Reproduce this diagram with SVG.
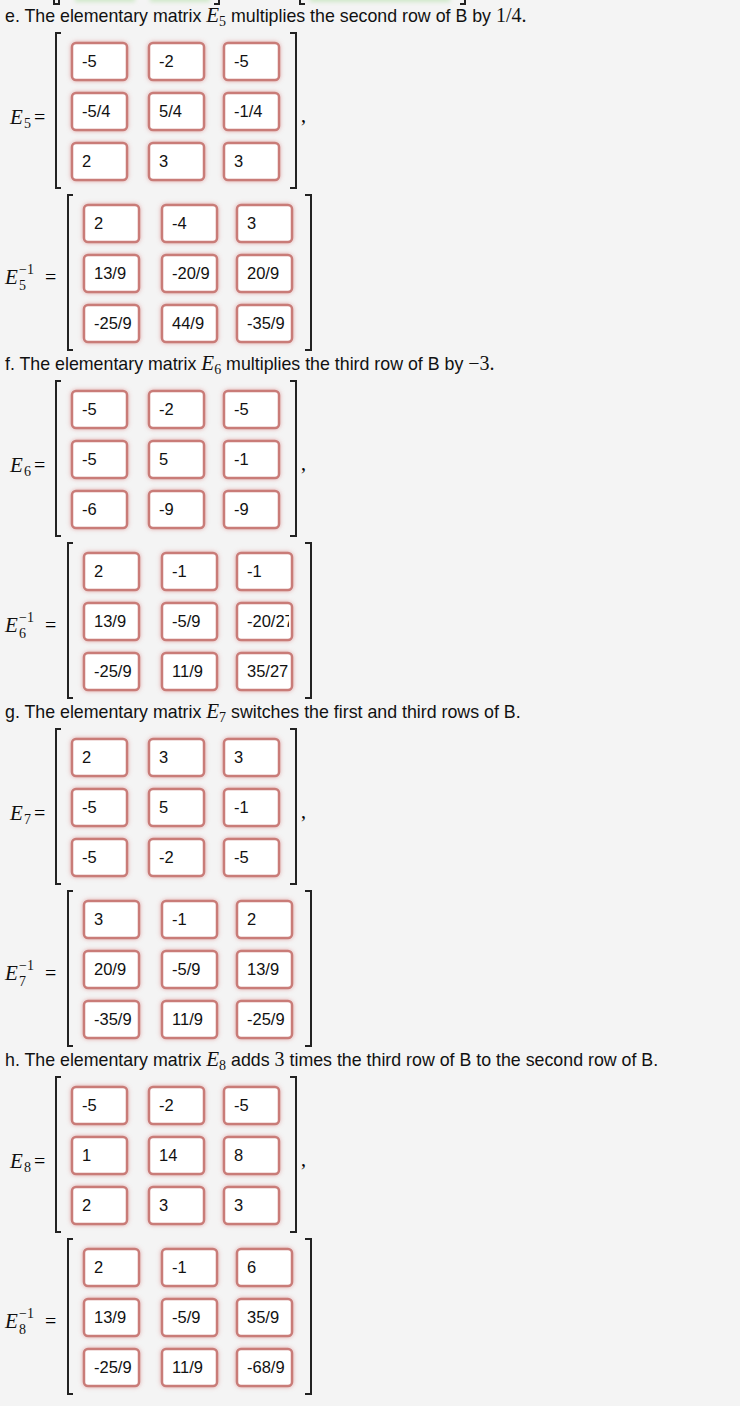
<svg xmlns="http://www.w3.org/2000/svg" width="740" height="1406" viewBox="0 0 740 1406">
<defs>
<filter id="glow" x="-20%" y="-20%" width="140%" height="140%"><feDropShadow dx="0" dy="0" stdDeviation="2" flood-color="#d07070" flood-opacity="0.6"/></filter>
<filter id="gglow" x="-20%" y="-50%" width="140%" height="200%"><feGaussianBlur stdDeviation="2"/></filter>
<g id="b"><rect width="55" height="37" rx="4" class="bx" filter="url(#glow)"/></g>
<clipPath id="c1"><rect x="84" y="190" width="52" height="170"/></clipPath>
<clipPath id="c2"><rect x="162" y="190" width="52" height="170"/></clipPath>
<clipPath id="c3"><rect x="237" y="190" width="52" height="170"/></clipPath>
</defs>
<style>
.bx{fill:#fff;stroke:#c97b78;stroke-width:2.5}
.v{font-family:"Liberation Sans",Arial,sans-serif;font-size:16.5px;fill:#111}
.t{font-family:"Liberation Sans",Arial,sans-serif;font-size:17.8px;fill:#111}
.m{font-family:"Liberation Serif","Times New Roman",serif;font-size:20px}
.mi{font-family:"Liberation Serif","Times New Roman",serif;font-size:21px;font-style:italic;fill:#111}
.ms{font-family:"Liberation Serif","Times New Roman",serif;font-size:14px;fill:#111}
.br{fill:none;stroke:#222;stroke-width:2}
</style>
<rect width="740" height="1406" fill="#f4f4f4"/>
<g id="top-fragment">
<rect x="75" y="-10" width="60" height="12" fill="#cfe8c8" filter="url(#gglow)"/>
<rect x="150" y="-10" width="60" height="12" fill="#cfe8c8" filter="url(#gglow)"/>
<rect x="310" y="-10" width="140" height="12" fill="#cfe8c8" filter="url(#gglow)"/>
<path class="br" d="M59,-2 V4 H54 V-2 M214,4 H219 V-2 M305,4 H300 V-2 M460,4 H465 V-2"/>
</g>
<g id="connectors"/>

<!-- Section e -->
<g id="sec-e">
<text class="t" x="5" y="22">e. The elementary matrix <tspan class="mi">E</tspan><tspan class="ms" dy="4">5</tspan><tspan dy="-4"> multiplies the second row of B by </tspan><tspan class="m">1/4.</tspan></text>
<g id="E5">
<text class="mi" x="10" y="124">E</text><text class="ms" x="24" y="128">5</text><text class="m" x="34" y="124">=</text>
<path class="br" d="M61,33 H56 V188 H61 M290,33 H296 V188 H290"/>
<text class="m" x="301" y="122">,</text>
<use href="#b" x="72" y="43"/><use href="#b" x="149" y="43"/><use href="#b" x="224" y="43"/>
<use href="#b" x="72" y="93"/><use href="#b" x="149" y="93"/><use href="#b" x="224" y="93"/>
<use href="#b" x="72" y="143"/><use href="#b" x="149" y="143"/><use href="#b" x="224" y="143"/>
<text class="v" x="82" y="67">-5</text><text class="v" x="159" y="67">-2</text><text class="v" x="234" y="67">-5</text>
<text class="v" x="82" y="117">-5/4</text><text class="v" x="159" y="117">5/4</text><text class="v" x="234" y="117">-1/4</text>
<text class="v" x="82" y="167">2</text><text class="v" x="159" y="167">3</text><text class="v" x="234" y="167">3</text>
</g>
<g id="E5inv">
<text class="mi" x="5" y="284">E</text><text class="ms" x="19" y="290">5</text><text class="ms" x="19" y="274">−1</text><text class="m" x="45" y="284">=</text>
<path class="br" d="M73,195 H68 V350 H73 M305,195 H311 V350 H305"/>
<use href="#b" x="84" y="205"/><use href="#b" x="162" y="205"/><use href="#b" x="237" y="205"/>
<use href="#b" x="84" y="255"/><use href="#b" x="162" y="255"/><use href="#b" x="237" y="255"/>
<use href="#b" x="84" y="305"/><use href="#b" x="162" y="305"/><use href="#b" x="237" y="305"/>
<text class="v" x="94" y="229">2</text><text class="v" x="172" y="229">-4</text><text class="v" x="247" y="229">3</text>
<text class="v" x="94" y="279">13/9</text><text class="v" x="172" y="279" clip-path="url(#c2)">-20/9</text><text class="v" x="247" y="279">20/9</text>
<text class="v" x="94" y="329" clip-path="url(#c1)">-25/9</text><text class="v" x="172" y="329">44/9</text><text class="v" x="247" y="329" clip-path="url(#c3)">-35/9</text>
</g>
</g>

<!-- Section f -->
<g id="sec-f" transform="translate(0,348)">
<text class="t" x="5" y="22">f. The elementary matrix <tspan class="mi">E</tspan><tspan class="ms" dy="4">6</tspan><tspan dy="-4"> multiplies the third row of B by </tspan><tspan class="m">−3.</tspan></text>
<g id="E6">
<text class="mi" x="10" y="124">E</text><text class="ms" x="24" y="128">6</text><text class="m" x="34" y="124">=</text>
<path class="br" d="M61,33 H56 V188 H61 M290,33 H296 V188 H290"/>
<text class="m" x="301" y="122">,</text>
<use href="#b" x="72" y="43"/><use href="#b" x="149" y="43"/><use href="#b" x="224" y="43"/>
<use href="#b" x="72" y="93"/><use href="#b" x="149" y="93"/><use href="#b" x="224" y="93"/>
<use href="#b" x="72" y="143"/><use href="#b" x="149" y="143"/><use href="#b" x="224" y="143"/>
<text class="v" x="82" y="67">-5</text><text class="v" x="159" y="67">-2</text><text class="v" x="234" y="67">-5</text>
<text class="v" x="82" y="117">-5</text><text class="v" x="159" y="117">5</text><text class="v" x="234" y="117">-1</text>
<text class="v" x="82" y="167">-6</text><text class="v" x="159" y="167">-9</text><text class="v" x="234" y="167">-9</text>
</g>
<g id="E6inv">
<text class="mi" x="5" y="284">E</text><text class="ms" x="19" y="290">6</text><text class="ms" x="19" y="274">−1</text><text class="m" x="45" y="284">=</text>
<path class="br" d="M73,195 H68 V350 H73 M305,195 H311 V350 H305"/>
<use href="#b" x="84" y="205"/><use href="#b" x="162" y="205"/><use href="#b" x="237" y="205"/>
<use href="#b" x="84" y="255"/><use href="#b" x="162" y="255"/><use href="#b" x="237" y="255"/>
<use href="#b" x="84" y="305"/><use href="#b" x="162" y="305"/><use href="#b" x="237" y="305"/>
<text class="v" x="94" y="229">2</text><text class="v" x="172" y="229">-1</text><text class="v" x="247" y="229">-1</text>
<text class="v" x="94" y="279">13/9</text><text class="v" x="172" y="279">-5/9</text><text class="v" x="247" y="279" clip-path="url(#c3)">-20/27</text>
<text class="v" x="94" y="329" clip-path="url(#c1)">-25/9</text><text class="v" x="172" y="329">11/9</text><text class="v" x="247" y="329" clip-path="url(#c3)">35/27</text>
</g>
</g>

<!-- Section g -->
<g id="sec-g" transform="translate(0,696)">
<text class="t" x="5" y="22">g. The elementary matrix <tspan class="mi">E</tspan><tspan class="ms" dy="4">7</tspan><tspan dy="-4"> switches the first and third rows of B.</tspan></text>
<g id="E7">
<text class="mi" x="10" y="124">E</text><text class="ms" x="24" y="128">7</text><text class="m" x="34" y="124">=</text>
<path class="br" d="M61,33 H56 V188 H61 M290,33 H296 V188 H290"/>
<text class="m" x="301" y="122">,</text>
<use href="#b" x="72" y="43"/><use href="#b" x="149" y="43"/><use href="#b" x="224" y="43"/>
<use href="#b" x="72" y="93"/><use href="#b" x="149" y="93"/><use href="#b" x="224" y="93"/>
<use href="#b" x="72" y="143"/><use href="#b" x="149" y="143"/><use href="#b" x="224" y="143"/>
<text class="v" x="82" y="67">2</text><text class="v" x="159" y="67">3</text><text class="v" x="234" y="67">3</text>
<text class="v" x="82" y="117">-5</text><text class="v" x="159" y="117">5</text><text class="v" x="234" y="117">-1</text>
<text class="v" x="82" y="167">-5</text><text class="v" x="159" y="167">-2</text><text class="v" x="234" y="167">-5</text>
</g>
<g id="E7inv">
<text class="mi" x="5" y="284">E</text><text class="ms" x="19" y="290">7</text><text class="ms" x="19" y="274">−1</text><text class="m" x="45" y="284">=</text>
<path class="br" d="M73,195 H68 V350 H73 M305,195 H311 V350 H305"/>
<use href="#b" x="84" y="205"/><use href="#b" x="162" y="205"/><use href="#b" x="237" y="205"/>
<use href="#b" x="84" y="255"/><use href="#b" x="162" y="255"/><use href="#b" x="237" y="255"/>
<use href="#b" x="84" y="305"/><use href="#b" x="162" y="305"/><use href="#b" x="237" y="305"/>
<text class="v" x="94" y="229">3</text><text class="v" x="172" y="229">-1</text><text class="v" x="247" y="229">2</text>
<text class="v" x="94" y="279">20/9</text><text class="v" x="172" y="279">-5/9</text><text class="v" x="247" y="279">13/9</text>
<text class="v" x="94" y="329" clip-path="url(#c1)">-35/9</text><text class="v" x="172" y="329">11/9</text><text class="v" x="247" y="329" clip-path="url(#c3)">-25/9</text>
</g>
</g>

<!-- Section h -->
<g id="sec-h" transform="translate(0,1044)">
<text class="t" x="5" y="22">h. The elementary matrix <tspan class="mi">E</tspan><tspan class="ms" dy="4">8</tspan><tspan dy="-4"> adds </tspan><tspan class="m">3</tspan><tspan> times the third row of B to the second row of B.</tspan></text>
<g id="E8">
<text class="mi" x="10" y="124">E</text><text class="ms" x="24" y="128">8</text><text class="m" x="34" y="124">=</text>
<path class="br" d="M61,33 H56 V188 H61 M290,33 H296 V188 H290"/>
<text class="m" x="301" y="122">,</text>
<use href="#b" x="72" y="43"/><use href="#b" x="149" y="43"/><use href="#b" x="224" y="43"/>
<use href="#b" x="72" y="93"/><use href="#b" x="149" y="93"/><use href="#b" x="224" y="93"/>
<use href="#b" x="72" y="143"/><use href="#b" x="149" y="143"/><use href="#b" x="224" y="143"/>
<text class="v" x="82" y="67">-5</text><text class="v" x="159" y="67">-2</text><text class="v" x="234" y="67">-5</text>
<text class="v" x="82" y="117">1</text><text class="v" x="159" y="117">14</text><text class="v" x="234" y="117">8</text>
<text class="v" x="82" y="167">2</text><text class="v" x="159" y="167">3</text><text class="v" x="234" y="167">3</text>
</g>
<g id="E8inv">
<text class="mi" x="5" y="284">E</text><text class="ms" x="19" y="290">8</text><text class="ms" x="19" y="274">−1</text><text class="m" x="45" y="284">=</text>
<path class="br" d="M73,195 H68 V350 H73 M305,195 H311 V350 H305"/>
<use href="#b" x="84" y="205"/><use href="#b" x="162" y="205"/><use href="#b" x="237" y="205"/>
<use href="#b" x="84" y="255"/><use href="#b" x="162" y="255"/><use href="#b" x="237" y="255"/>
<use href="#b" x="84" y="305"/><use href="#b" x="162" y="305"/><use href="#b" x="237" y="305"/>
<text class="v" x="94" y="229">2</text><text class="v" x="172" y="229">-1</text><text class="v" x="247" y="229">6</text>
<text class="v" x="94" y="279">13/9</text><text class="v" x="172" y="279">-5/9</text><text class="v" x="247" y="279">35/9</text>
<text class="v" x="94" y="329" clip-path="url(#c1)">-25/9</text><text class="v" x="172" y="329">11/9</text><text class="v" x="247" y="329" clip-path="url(#c3)">-68/9</text>
</g>
</g>
</svg>
